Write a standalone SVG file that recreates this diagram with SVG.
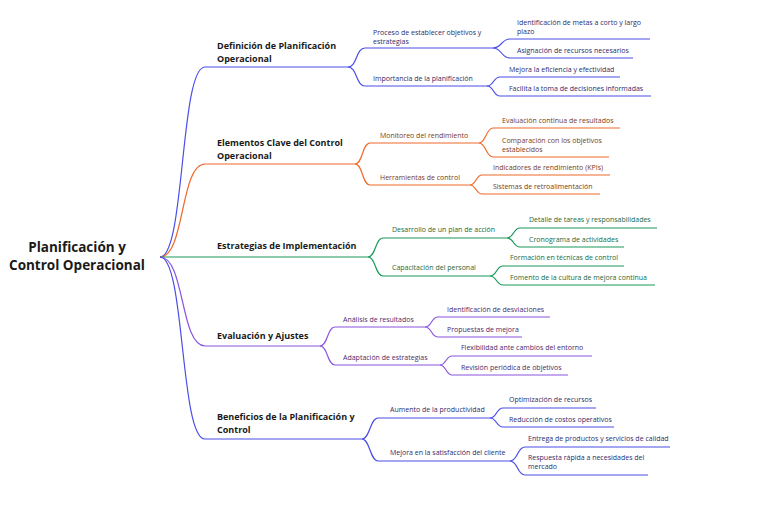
<svg xmlns="http://www.w3.org/2000/svg" width="768" height="507" viewBox="0 0 768 507">
<style>
text{font-family:"Open Sans","Noto Sans",sans-serif}
.root{font-size:13.5px;font-weight:700;fill:#1a1a1a}
.m{font-size:9px;font-weight:700;fill:#1a1a1a}
.s{font-size:7px}
.b{fill:#2c2c6c}.o{fill:#7a3a1a}.g{fill:#1a6a3a}.p{fill:#4a2a6a}
path{fill:none;stroke-width:1.2}
.cb{stroke:#4a4ee6}.co{stroke:#ee6a2a}.cg{stroke:#1a9a5a}.cp{stroke:#8a55e0}
</style>
<rect width="768" height="507" fill="#fff"/>
<g id="connectors">
<path class="cb" d="M160 257 C185 257 180 67 205 67 L348 67"/>
<path class="cb" d="M348 67 C357 67 356 48 365 48 L493 48"/>
<path class="cb" d="M348 67 C357 67 356 86 365 86 L487 86"/>
<path class="cb" d="M493 48 C502 48 501 39 510 39 L650 39"/>
<path class="cb" d="M493 48 C502 48 501 58 510 58 L633 58"/>
<path class="cb" d="M487 86 C494 86 493 77 500 77 L620 77"/>
<path class="cb" d="M487 86 C494 86 493 96 500 96 L651 96"/>
<path class="co" d="M160 257 C185 257 180 164 205 164 L355 164"/>
<path class="co" d="M355 164 C363 164 362 143 370 143 L479 143"/>
<path class="co" d="M355 164 C363 164 362 185 370 185 L470 185"/>
<path class="co" d="M479 143 C486 143 486 128 493 128 L620 128"/>
<path class="co" d="M479 143 C486 143 486 157 493 157 L609 157"/>
<path class="co" d="M470 185 C476 185 476 175 482 175 L610 175"/>
<path class="co" d="M470 185 C476 185 476 194 482 194 L600 194"/>
<path class="cg" d="M160 257 L368 257"/>
<path class="cg" d="M368 257 C376 257 375 238 383 238 L507 238"/>
<path class="cg" d="M368 257 C376 257 375 276 383 276 L490 276"/>
<path class="cg" d="M507 238 C514 238 513 228 520 228 L657 228"/>
<path class="cg" d="M507 238 C514 238 513 247 520 247 L624 247"/>
<path class="cg" d="M490 276 C497 276 496 266 503 266 L624 266"/>
<path class="cg" d="M490 276 C497 276 496 285 503 285 L655 285"/>
<path class="cp" d="M160 257 C185 257 180 346 205 346 L320 346"/>
<path class="cp" d="M320 346 C328 346 327 327 335 327 L425 327"/>
<path class="cp" d="M320 346 C328 346 327 365 335 365 L440 365"/>
<path class="cp" d="M425 327 C432 327 431 317 438 317 L550 317"/>
<path class="cp" d="M425 327 C432 327 431 337 438 337 L522 337"/>
<path class="cp" d="M440 365 C446 365 446 356 452 356 L592 356"/>
<path class="cp" d="M440 365 C446 365 446 375 452 375 L568 375"/>
<path class="cb" d="M160 257 C185 257 180 439 205 439 L362 439"/>
<path class="cb" d="M362 439 C370 439 370 418 378 418 L490 418"/>
<path class="cb" d="M362 439 C370 439 370 461 378 461 L510 461"/>
<path class="cb" d="M490 418 C497 418 496 408 503 408 L596 408"/>
<path class="cb" d="M490 418 C497 418 496 427 503 427 L614 427"/>
<path class="cb" d="M510 461 C518 461 517 447 525 447 L670 447"/>
<path class="cb" d="M510 461 C518 461 517 475 525 475 L648 475"/>
</g>
<g id="root"><text class="root" x="77" y="252" text-anchor="middle">Planificación y</text><text class="root" x="77" y="270" text-anchor="middle">Control Operacional</text></g>
<g id="n1"><text class="m" x="217" y="49">Definición de Planificación</text><text class="m" x="217" y="62">Operacional</text></g>
<g id="n1a"><text class="s b" x="373" y="35">Proceso de establecer objetivos y</text><text class="s b" x="373" y="44">estrategias</text></g>
<g id="n1a1"><text class="s b" x="517" y="25">Identificación de metas a corto y largo</text><text class="s b" x="517" y="34">plazo</text></g>
<g id="n1a2"><text class="s b" x="517" y="53">Asignación de recursos necesarios</text></g>
<g id="n1b"><text class="s b" x="373" y="81">Importancia de la planificación</text></g>
<g id="n1b1"><text class="s b" x="509" y="72">Mejora la eficiencia y efectividad</text></g>
<g id="n1b2"><text class="s b" x="509" y="91">Facilita la toma de decisiones informadas</text></g>
<g id="n2"><text class="m" x="217" y="146">Elementos Clave del Control</text><text class="m" x="217" y="159">Operacional</text></g>
<g id="n2a"><text class="s o" x="380" y="138">Monitoreo del rendimiento</text></g>
<g id="n2a1"><text class="s o" x="502" y="123">Evaluación continua de resultados</text></g>
<g id="n2a2"><text class="s o" x="502" y="143">Comparación con los objetivos</text><text class="s o" x="502" y="152">establecidos</text></g>
<g id="n2b"><text class="s o" x="380" y="180">Herramientas de control</text></g>
<g id="n2b1"><text class="s o" x="493" y="170">Indicadores de rendimiento (KPIs)</text></g>
<g id="n2b2"><text class="s o" x="493" y="189">Sistemas de retroalimentación</text></g>
<g id="n3"><text class="m" x="217" y="249">Estrategias de Implementación</text></g>
<g id="n3a"><text class="s g" x="392" y="232">Desarrollo de un plan de acción</text></g>
<g id="n3a1"><text class="s g" x="529" y="222">Detalle de tareas y responsabilidades</text></g>
<g id="n3a2"><text class="s g" x="529" y="242">Cronograma de actividades</text></g>
<g id="n3b"><text class="s g" x="392" y="270">Capacitación del personal</text></g>
<g id="n3b1"><text class="s g" x="510" y="260">Formación en técnicas de control</text></g>
<g id="n3b2"><text class="s g" x="510" y="280">Fomento de la cultura de mejora continua</text></g>
<g id="n4"><text class="m" x="217" y="339">Evaluación y Ajustes</text></g>
<g id="n4a"><text class="s p" x="343" y="322">Análisis de resultados</text></g>
<g id="n4a1"><text class="s p" x="447" y="312">Identificación de desviaciones</text></g>
<g id="n4a2"><text class="s p" x="447" y="332">Propuestas de mejora</text></g>
<g id="n4b"><text class="s p" x="343" y="360">Adaptación de estrategias</text></g>
<g id="n4b1"><text class="s p" x="461" y="350">Flexibilidad ante cambios del entorno</text></g>
<g id="n4b2"><text class="s p" x="461" y="370">Revisión periódica de objetivos</text></g>
<g id="n5"><text class="m" x="217" y="420">Beneficios de la Planificación y</text><text class="m" x="217" y="433">Control</text></g>
<g id="n5a"><text class="s b" x="390" y="412">Aumento de la productividad</text></g>
<g id="n5a1"><text class="s b" x="509" y="402">Optimización de recursos</text></g>
<g id="n5a2"><text class="s b" x="509" y="422">Reducción de costos operativos</text></g>
<g id="n5b"><text class="s b" x="390" y="455">Mejora en la satisfacción del cliente</text></g>
<g id="n5b1"><text class="s b" x="528" y="441">Entrega de productos y servicios de calidad</text></g>
<g id="n5b2"><text class="s b" x="528" y="460">Respuesta rápida a necesidades del</text><text class="s b" x="528" y="469">mercado</text></g>
</svg>
